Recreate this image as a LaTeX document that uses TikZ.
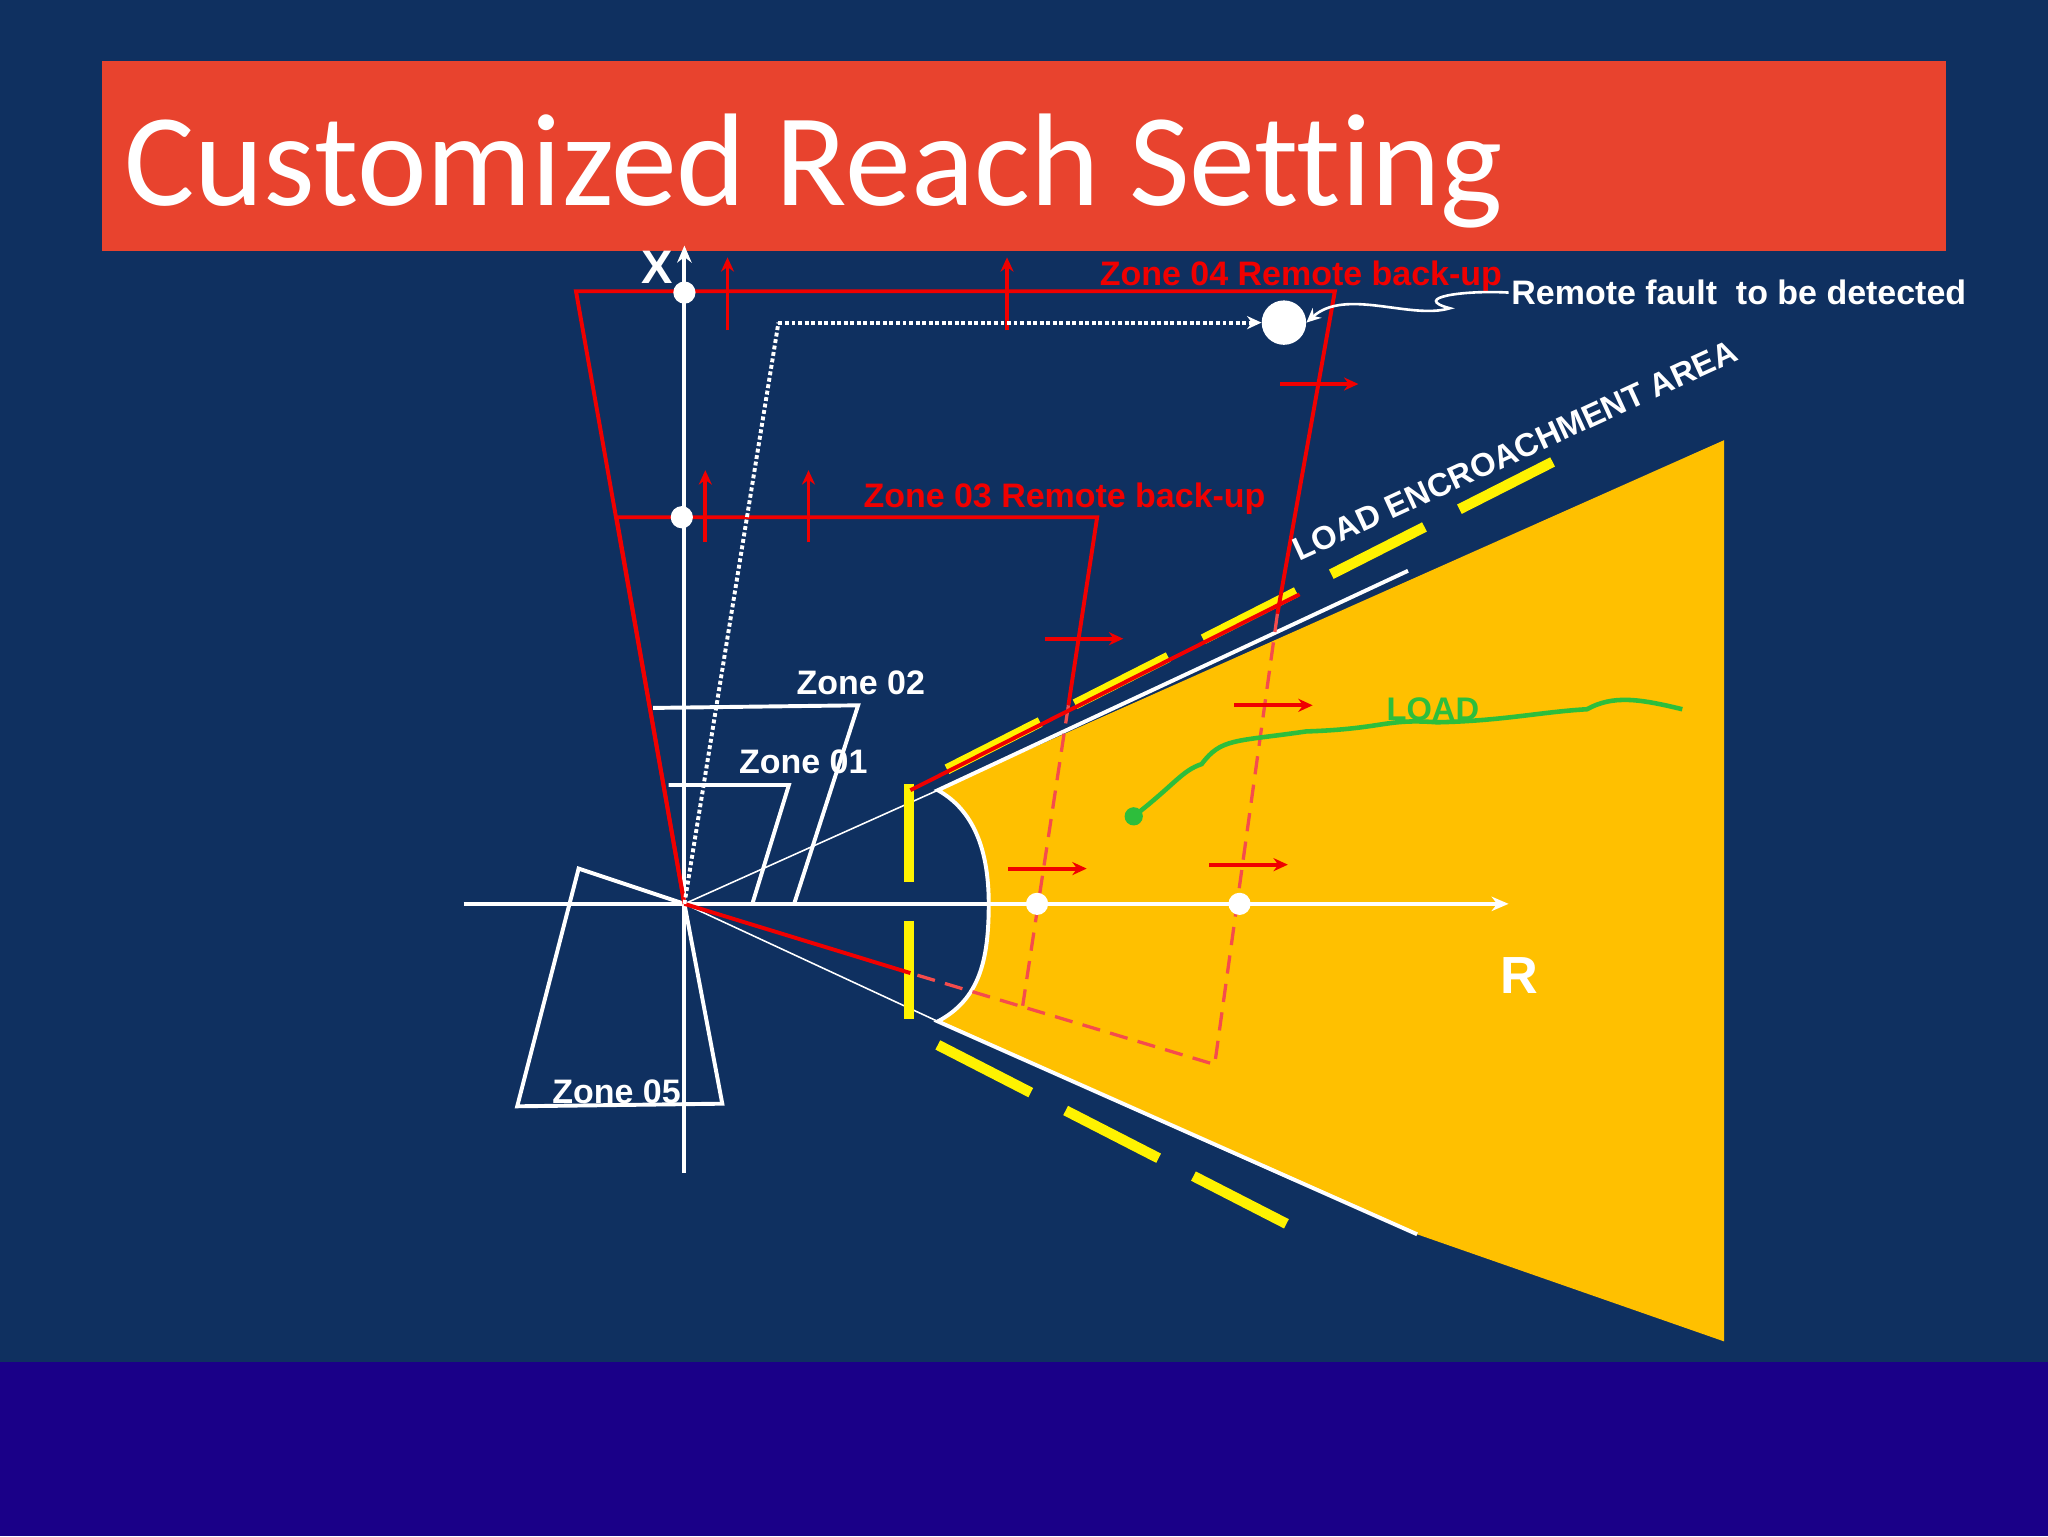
\documentclass[tikz,border=0pt]{standalone}
\usepackage{fontspec}
\setmainfont{Liberation Sans}
\newfontfamily\titlefont[Ligatures=NoCommon]{Carlito}
\usetikzlibrary{arrows.meta}
\definecolor{bg}{HTML}{0F3060}
\definecolor{band}{HTML}{1A0088}
\definecolor{ttl}{HTML}{E8432E}
\definecolor{ld}{HTML}{FFC000}
\definecolor{rd}{HTML}{F00000}
\definecolor{gr}{HTML}{2DBE3C}
\begin{document}
\begin{tikzpicture}[x=1pt,y=-1pt,
 wl/.style={white,line width=3pt},
 rl/.style={rd,line width=3pt},
 rdash/.style={rd!70!white,line width=2.5pt,dash pattern=on 14pt off 8pt},
 ydash/.style={yellow,line width=8pt,dash pattern=on 80pt off 30pt},
 rarr/.style={rd,line width=3pt,-{Stealth[length=11pt,width=10pt]}},
 lbl/.style={font=\bfseries\fontsize{26}{28}\selectfont},
 dot/.style={circle,fill=white,inner sep=0pt,minimum size=17pt}]
\useasboundingbox (0,0) rectangle (1568,1176);
\fill[bg] (0,0) rectangle (1568,1176);
\fill[band] (0,1043) rectangle (1568,1176);
\fill[ttl] (78,47) rectangle (1490,192);
\node[anchor=base west,text=white,inner sep=0pt,font=\titlefont\fontsize{101}{110}\selectfont] (title) at (95,157) {Customized Reach Setting};
% load area
\fill[ld] (718,605) -- (1320,337) -- (1320,1027) -- (1085,945) -- (718,782) .. controls (750,765) and (757,735) .. (757,692) .. controls (757,650) and (745,620) .. (718,605) -- cycle;
\draw[wl] (1078,437) -- (718,605) .. controls (745,620) and (757,650) .. (757,692) .. controls (757,735) and (750,765) .. (718,782) -- (1085,945);
% axes
\coordinate (O) at (524,692);
\draw[white,line width=3pt,-{Stealth[length=13pt,width=11pt]}] (524,898) -- (524,188);
\draw[white,line width=3pt,-{Stealth[length=13pt,width=11pt]}] (355,692) -- (1155,692);
\node[text=white,font=\bfseries\fontsize{36}{38}\selectfont] (xl) at (503,205) {X};
\node[text=white,font=\bfseries\fontsize{40}{42}\selectfont] (rlab) at (1163,747) {R};
% thin impedance lines
\draw[white,line width=1.2pt] (O) -- (718,605);
\draw[white,line width=1.2pt] (O) -- (718,782);
% zones 01, 02, 05
\draw[wl] (512,601) -- (604,601) -- (576,692);
\draw[wl] (500,542) -- (657,540) -- (608,692);
\draw[wl] (O) -- (443,665) -- (396,847) -- (553,845) -- (O);
\node[lbl,text=white] (z2) at (659,523) {Zone 02};
\node[lbl,text=white] (z1) at (615,583) {Zone 01};
\node[lbl,text=white] (z5) at (472,836) {Zone 05};
% yellow dashes
\draw[ydash] (725,589) -- (1190,353);
\draw[ydash] (718,800) -- (985,937);
\draw[yellow,line width=8pt,dash pattern=on 75pt off 30pt] (696,600) -- (696,785);
% zone 4
\draw[rl] (O) -- (441,223) -- (1022,223) -- (978,470);
\draw[rdash] (978,470) -- (930,815) -- (697,745);
\draw[rl] (697,745) -- (O);
% zone 3
\draw[rl] (O) -- (472,396) -- (840,396) -- (818,540);
\draw[rdash] (818,540) -- (783,770);
\draw[rl] (697,605) -- (995,455);
% red arrows
\foreach \x/\a/\b in {557/253/197,771/253/197,540/415/360,619/415/360}
  \draw[rarr] (\x,\a) -- (\x,\b);
\foreach \x/\y in {980/294,800/489,945/540,772/665,926/662}
  \draw[rarr] (\x,\y) -- (\x+60,\y);
\node[lbl,text=rd] (z4) at (996,212) {Zone 04 Remote back-up};
\node[lbl,text=rd] (z3) at (815,382) {Zone 03 Remote back-up};
% dots
\node[dot] (d1) at (524,224) {};
\node[dot] (d2) at (522,396) {};
\node[dot] (d3) at (794,692) {};
\node[dot] (d4) at (949,692) {};
\node[circle,fill=white,inner sep=0pt,minimum size=34pt] (fault) at (983,247) {};
% dotted path
\coordinate (bend) at (596,247);
\draw[white,line width=3pt,dotted] (O) -- (bend);
\draw[white,line width=3pt,dotted,-{Stealth[length=11pt,width=10pt]}] (bend) -- (fault.west);
% remote fault label
\node[lbl,text=white,anchor=west,inner sep=2pt] (rf) at (1155,224) {Remote fault\ \ to be detected};
\draw[white,line width=2pt,-{Stealth[length=11pt,width=10pt]}] (rf.west) .. controls (1120,222) and (1080,228) .. (1110,236) .. controls (1080,245) and (1030,220) .. (fault.east);
% load encroachment label
\node[text=white,rotate=24.6,font=\bfseries\fontsize{25}{26}\selectfont] (lea) at (1160,345) {LOAD ENCROACHMENT AREA};
% load curve
\draw[gr,line width=3.5pt] (868,625) .. controls (900,600) and (905,590) .. (920,585) .. controls (935,565) and (945,568) .. (1000,560) .. controls (1060,558) and (1060,550) .. (1100,553) .. controls (1150,552) and (1180,545) .. (1215,543) .. controls (1235,532) and (1255,535) .. (1288,543);
\fill[gr] (868,625) circle (7pt);
\node[text=gr,font=\bfseries\fontsize{25}{26}\selectfont] (ldl) at (1097,543) {LOAD};
\end{tikzpicture}
\end{document}
